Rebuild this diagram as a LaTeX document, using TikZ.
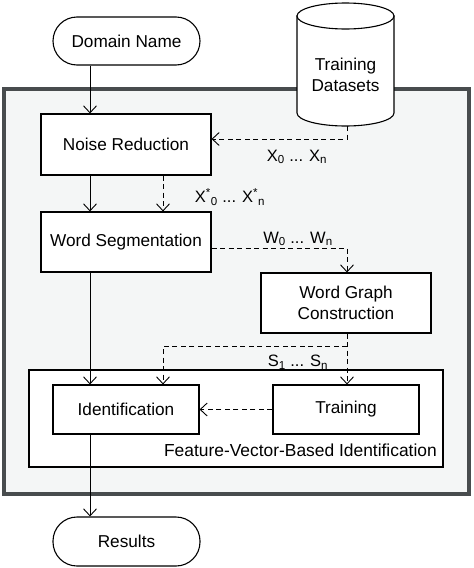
\documentclass[tikz,border=0pt]{standalone}
\usepackage{fontspec}
\setmainfont{Liberation Sans}
\usetikzlibrary{arrows.meta,calc}
\definecolor{frame}{HTML}{484C4E}
\definecolor{panel}{HTML}{F4F6F6}
\begin{document}
\begin{tikzpicture}[x=1pt,y=-1pt,
  box/.style={draw=black, line width=1.1pt, fill=white, align=center,
    font=\fontsize{17.2}{20.5}\selectfont, inner sep=0pt},
  term/.style={box, rounded corners=24pt},
  lbl/.style={font=\fontsize{16.5}{19}\selectfont, inner sep=0pt},
  flow/.style={line width=0.9pt, -{Straight Barb[length=7pt,width=13pt,line width=0.9pt]}},
  dflow/.style={flow, dash pattern=on 5pt off 3.5pt}]
\useasboundingbox (0,0) rectangle (474,568);
% outer panel
\node[draw=frame, line width=4pt, fill=panel, minimum width=465pt, minimum height=405pt, inner sep=0pt] (outer) at (236.5,291.5) {};
% inner container
\node[draw=black, line width=1.1pt, fill=white, minimum width=414pt, minimum height=97pt, inner sep=0pt] (fvbi) at (236,418.5) {};
\node[lbl, font=\fontsize{17.4}{20}\selectfont, anchor=east] (fvbilbl) at (437,450) {Feature-Vector-Based Identification};
% cylinder
\draw[line width=1.1pt, fill=white] (297,16) -- (297,113)
  arc[start angle=180, end angle=0, x radius=48.5, y radius=13] -- (394,16) -- cycle;
\draw[line width=1.1pt, fill=white] (345.5,16) ellipse [x radius=48.5, y radius=13];
\node[align=center, font=\fontsize{17.2}{20.5}\selectfont, inner sep=0pt] (cyl) at (345.5,75) {Training\\Datasets};
\coordinate (cylbot) at (347,126);
% nodes
\node[term, minimum width=147pt, minimum height=48pt] (dom) at (126.5,41) {Domain Name};
\node[box, minimum width=170pt, minimum height=61pt] (nr) at (126,144.5) {Noise Reduction};
\node[box, minimum width=170pt, minimum height=60pt] (ws) at (126,242) {Word Segmentation};
\node[box, minimum width=170pt, minimum height=60pt] (wg) at (346,303) {Word Graph\\Construction};
\node[box, minimum width=146pt, minimum height=49pt] (id) at (126,409.5) {Identification};
\node[box, minimum width=146pt, minimum height=49pt] (tr) at (346,409.5) {Training};
\node[term, minimum width=147pt, minimum height=49pt] (res) at (126.5,541.5) {Results};
% guide coordinates
\coordinate (xL) at (90,0);
\coordinate (xM) at (163,0);
\coordinate (xR) at (347,0);
\coordinate (br) at (347,346);
% connectors
\draw[flow] (dom.south -| xL) -- (nr.north -| xL);
\draw[dflow] (cylbot) |- ($(nr.east)+(0,-5.5)$);
\draw[flow] (nr.south -| xL) -- (ws.north -| xL);
\draw[dflow] (nr.south -| xM) -- (ws.north -| xM);
\draw[dflow] ($(ws.east)+(0,6)$) -| (wg.north -| xR);
\draw[dflow] (wg.south -| xR) -- (tr.north -| xR);
\draw[dflow] (br) -| (id.north -| xM);
\draw[flow] (ws.south -| xL) -- (id.north -| xL);
\draw[dflow] (tr.west) -- (id.east);
\draw[flow] (id.south -| xL) -- (res.north -| xL);
% labels
\node[lbl] (lx) at (297,157) {X\textsubscript{0} ... X\textsubscript{n}};
\node[lbl] (lxs) at (230,197) {X\textsuperscript{*}\textsubscript{0} ... X\textsuperscript{*}\textsubscript{n}};
\node[lbl] (lw) at (298,239) {W\textsubscript{0} ... W\textsubscript{n}};
\node[lbl] (ls) at (298,362) {S\textsubscript{1} ... S\textsubscript{n}};
\end{tikzpicture}
\end{document}
